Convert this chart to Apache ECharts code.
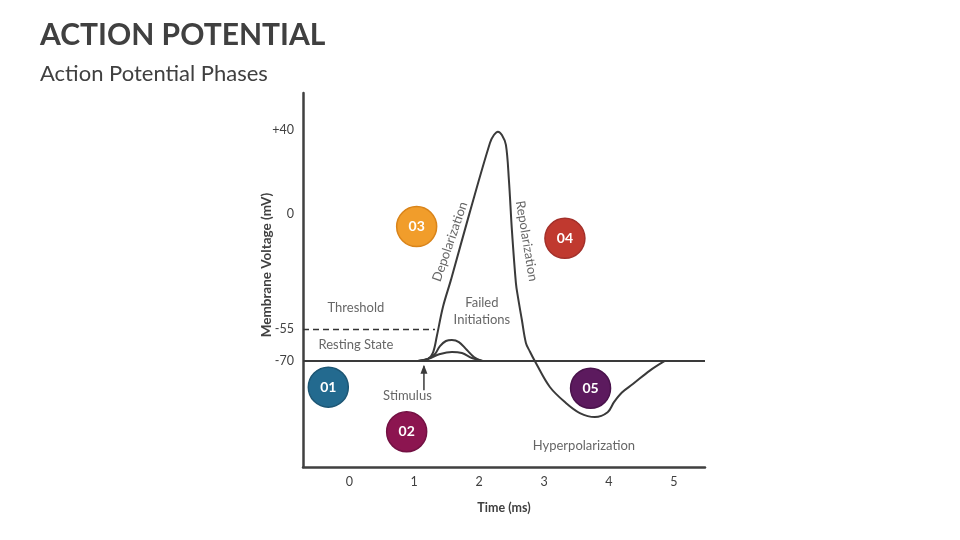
<!DOCTYPE html>
<html><head><meta charset="utf-8">
<script src="https://cdn.jsdelivr.net/npm/echarts@6/dist/echarts.min.js"></script>
<style>html,body{margin:0;padding:0;background:#fff}#c{width:960px;height:540px}</style>
</head><body><div id="c"></div>
<script>
// ---- data ----
const xTicks = [0, 1, 2, 3, 4, 5];
const yTicks = [-70, -55, 0, 40];
const xRange = [-0.713, 5.48];
const yRange = [-120.5, 57.6];
const baseline = [[-0.713, -70], [5.48, -70]];
const threshold = [[-0.713, -55], [1.32, -55]];
const actionPotential = [
  [1.058, -70], [1.212, -69], [1.29, -66], [1.35, -58], [1.443, -44.3], [1.566, -31.4],
  [1.858, 1], [2.167, 33.8], [2.228, 37.6], [2.29, 39.2], [2.351, 37.6], [2.413, 32.9],
  [2.459, 16.2], [2.505, -7.6], [2.567, -32.9], [2.598, -39.5], [2.659, -50.5],
  [2.721, -61.4], [2.782, -65.5], [2.875, -71], [3.09, -82.4], [3.337, -90],
  [3.552, -94.8], [3.783, -96.7], [3.98, -94.4], [4.08, -89.5], [4.2, -85],
  [4.369, -81], [4.63, -74.6], [4.861, -70]
];
const failedHigh = [
  [1.058, -70], [1.212, -69], [1.32, -66.7], [1.397, -62.9], [1.489, -60.5], [1.581, -60],
  [1.689, -61], [1.812, -64.8], [1.92, -68.1], [2.043, -70]
];
const failedLow = [
  [1.058, -70], [1.212, -69], [1.397, -66.7], [1.581, -65.7], [1.735, -66.2],
  [1.889, -68.6], [2.059, -70]
];
const stimulus = [[1.15, -84], [1.15, -72.5]];
const phaseNames = ['01', '02', '03', '04', '05'];
const phasePos = [[-0.323, -82.5], [0.884, -103.7], [1.038, -6], [3.322, -11.6], [3.717, -83]];
const phaseColors = ['#236a8f', '#8c1550', '#f19d2b', '#c0392f', '#5c1a5e'];
const phaseBorders = ['#1d5674', '#731143', '#d9841a', '#a3302a', '#4a134c'];
const notes = [
  {text: 'Threshold', pos: [0.102, -44.8], rotate: 0},
  {text: 'Resting State', pos: [0.102, -62.4], rotate: 0},
  {text: 'Failed\nInitiations', pos: [2.043, -46.2], rotate: 0},
  {text: 'Stimulus', pos: [0.896, -86.5], rotate: 0},
  {text: 'Hyperpolarization', pos: [3.614, -110.5], rotate: 0},
  {text: 'Depolarization', pos: [1.551, -13.2], rotate: 71},
  {text: 'Repolarization', pos: [2.732, -12.9], rotate: -80.5}
];

const FONT = 'Lato, "Open Sans", sans-serif';
const TXT = '#404040';
const LINE = '#3a3a3a';

const chart = echarts.init(document.getElementById('c'), null, {renderer: 'canvas'});
const option = {
  animation: false,
  backgroundColor: '#fff',
  textStyle: {fontFamily: FONT},
  grid: {left: 303, right: 255, top: 93, bottom: 73, containLabel: false},
  xAxis: {
    type: 'value', min: xRange[0], max: xRange[1],
    axisLine: {show: true, onZero: false, lineStyle: {color: '#404040', width: 2.5}},
    axisTick: {show: false},
    splitLine: {show: false},
    axisLabel: {customValues: xTicks, color: TXT, fontSize: 12.5, margin: 8, fontFamily: FONT},
    name: 'Time (ms)', nameLocation: 'middle', nameGap: 34,
    nameTextStyle: {color: TXT, fontSize: 12.5, fontWeight: 'bold', fontFamily: FONT}
  },
  yAxis: {
    type: 'value', min: yRange[0], max: yRange[1],
    axisLine: {show: true, onZero: false, lineStyle: {color: '#404040', width: 2.5}},
    axisTick: {show: false},
    splitLine: {show: false},
    axisLabel: {customValues: yTicks, color: TXT, fontSize: 12.5, margin: 9, fontFamily: FONT,
      formatter: v => (v > 0 ? '+' + v : '' + v)}
  },
  graphic: [
    {type: 'text', x: 40, y: 35, style: {text: 'ACTION POTENTIAL', fill: '#404040',
      font: 'bold 30px ' + FONT, verticalAlign: 'middle'}},
    {type: 'text', x: 40, y: 74, style: {text: 'Action Potential Phases', fill: '#404040',
      font: '22px ' + FONT, verticalAlign: 'middle'}},
    {type: 'text', x: 266.7, y: 265, rotation: Math.PI / 2, style: {text: 'Membrane Voltage (mV)',
      fill: '#404040', font: 'bold 13.5px ' + FONT, align: 'center', verticalAlign: 'middle'}}
  ],
  series: [
    {type: 'line', data: baseline, symbol: 'none', silent: true,
      lineStyle: {color: LINE, width: 2}},
    {type: 'line', data: stimulus, symbol: 'none', silent: true,
      lineStyle: {color: LINE, width: 1.5},
      markPoint: {silent: true, symbol: 'triangle', symbolSize: [7, 9], itemStyle: {color: LINE},
        label: {show: false}, data: [{coord: stimulus[1], symbolOffset: [0, 3]}]}},
    {type: 'line', data: threshold, symbol: 'none', silent: true,
      lineStyle: {color: '#333', width: 1.6, type: [6, 4]}},
    {type: 'line', data: failedHigh, symbol: 'none', smooth: 0.4, silent: true,
      lineStyle: {color: LINE, width: 2}},
    {type: 'line', data: failedLow, symbol: 'none', smooth: 0.4, silent: true,
      lineStyle: {color: LINE, width: 2}},
    {type: 'line', data: actionPotential, symbol: 'none', smooth: 0.35, silent: true,
      lineStyle: {color: LINE, width: 2}},
    {type: 'scatter', silent: true, symbolSize: 0,
      data: notes.map(n => ({value: n.pos, label: {show: true, position: 'inside', formatter: n.text,
        rotate: n.rotate, color: TXT, fontSize: 13, fontFamily: FONT, lineHeight: 17, align: 'center', verticalAlign: 'middle'}}))},
    {type: 'scatter', silent: true, symbol: 'circle', symbolSize: 40,
      data: phaseNames.map((n, i) => ({value: phasePos[i],
        itemStyle: {color: phaseColors[i], borderColor: phaseBorders[i], borderWidth: 1.5, opacity: 1},
        label: {show: true, position: 'inside', formatter: n, color: '#fff', fontWeight: 'bold', fontSize: 14, fontFamily: FONT}}))}
  ]
};
chart.setOption(option);
</script>
</body></html>
